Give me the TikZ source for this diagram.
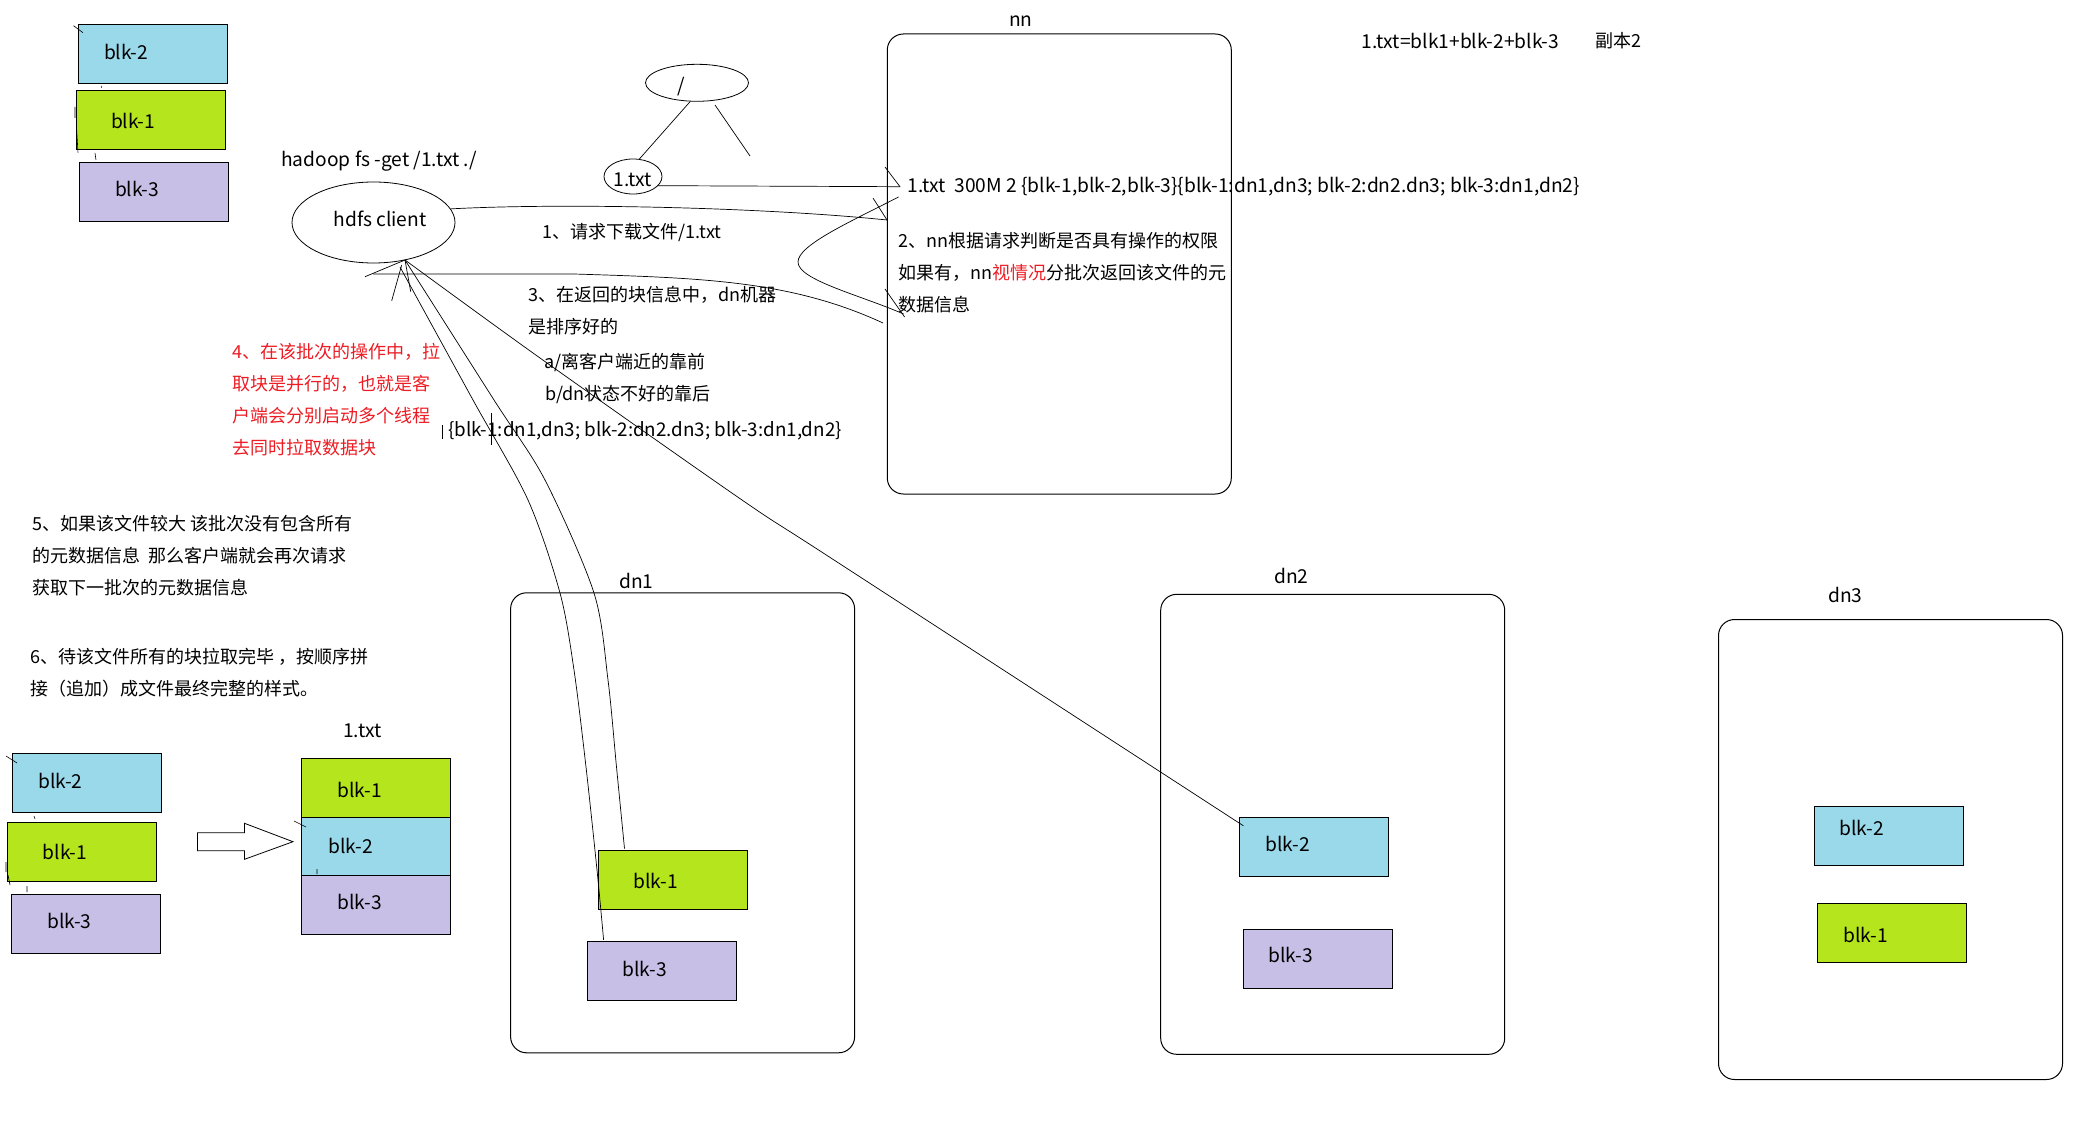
\documentclass[tikz,border=0pt]{standalone}
\usepackage{fontspec}
\setmainfont{Noto Sans CJK SC}
\usetikzlibrary{shapes.geometric}
\definecolor{blkblue}{HTML}{99D9EA}
\definecolor{blkgreen}{HTML}{B5E61D}
\definecolor{blkpurple}{HTML}{C8BFE7}
\definecolor{paintred}{HTML}{ED1C24}
\newcommand{\blkname}[3]{\hspace*{#1pt}\raisebox{#2pt}[0pt][0pt]{#3}}

\begin{document}
\begin{tikzpicture}[x=1pt,y=-1pt,every node/.style={font=\fontsize{18}{32}\selectfont},
	latin/.style={font=\fontsize{19.2}{32}\selectfont},
	blk/.style={draw,latin,line width=1pt,minimum height=59pt,text width=149pt,inner sep=0pt,align=left},
	blk2/.style={blk,fill=blkblue},blk1/.style={blk,fill=blkgreen},blk3/.style={blk,fill=blkpurple},
	server/.style={draw,line width=1pt,rounded corners=16pt,minimum width=344pt,minimum height=460pt,inner sep=0pt},
	txt/.style={anchor=west,inner sep=0pt,align=left},
	oval/.style={draw,ellipse,latin,line width=.8pt,inner sep=0pt},
	conn/.style={line width=.7pt},stub/.style={line width=.6pt}]
	\useasboundingbox (0,0) rectangle (2098,1139);

	% blocks of the file, upper left
	\node[blk2] (topblk2) at (152.5,54.5) {\blkname{26}{-5.5}{blk-2}};
	\node[blk1] (topblk1) at (150.5,120.5) {\blkname{35}{-8.5}{blk-1}};
	\node[blk3] (topblk3) at (153.5,192) {\blkname{36}{-4.5}{blk-3}};
	\draw[stub] (73.5,25.7) -- (83,32.7) (101.6,86) -- (101.6,88) (75,107) -- (75,118) (76.5,127) -- (78,152.7) (95,153) -- (96,160);

	% namenode
	\node[server] (nn) at (1059.3,264) {};
	\node[txt,latin] (nnlabel) at (1009,20.7) {nn};
	\node[txt,latin] (sum) at (1361.7,40.7) {1.txt=blk1+blk-2+blk-3};
	\node[txt] (copies) at (1595,40.7) {副本2};
	\node[txt,latin] (meta) at (907.6,186.7) {1.txt~~300M 2 \{blk-1,blk-2,blk-3\}\{blk-1:dn1,dn3; blk-2:dn2.dn3; blk-3:dn1,dn2\}};
	\node[txt] (step2) at (898.5,272.7) {2、nn根据请求判断是否具有操作的权限\\如果有，nn\textcolor{paintred}{视情况}分批次返回该文件的元\\数据信息};

	% client and directory tree
	\node[txt,latin] (cmd) at (281,161) {hadoop fs -get /1.txt ./};
	\node[oval,minimum width=163pt,minimum height=81pt] (client) at (373.5,222.5) {\hspace*{13pt}\raisebox{-4pt}[0pt][0pt]{hdfs client}};
	\node[oval,minimum width=103pt,minimum height=37pt] (root) at (697,82.8) {\raisebox{-10pt}[0pt][0pt]{/}\hspace*{32pt}};
	\node[oval,minimum width=58pt,minimum height=35pt] (file) at (633,176.5) {\raisebox{-10pt}[0pt][0pt]{1.txt}};
	\coordinate (rootend) at (750,156);
	\coordinate (nnfile) at (900,186.7);
	\coordinate (nnreq) at (887,220);
	\coordinate (nnback) at (883,323);
	\coordinate (clienttip) at (373,274);
	\coordinate (readtop) at (405,260);
	\draw[conn] (root.-110) -- (file.70);
	\draw[conn] (715,105) -- (rootend);
	\draw[conn] (file.-20) -- (nnfile);
	\draw[conn] (885,167) -- (nnfile);
	\draw[conn] (client.10) .. controls (560,203) and (760,207) .. (nnreq);
	\draw[conn] (873,198) -- (nnreq);
	\draw[conn] (898.5,197) .. controls (850,222) and (798,245) .. (798,262) .. controls (798,280) and (860,295) .. (903.6,314);
	\draw[conn] (885,289) -- (904.6,317);
	\draw[conn] (clienttip) -- (574,274) .. controls (700,278) and (790,280) .. (nnback);
	\draw[conn] (365,276.7) -- (readtop) -- (410.7,291.7);
	\draw[conn] (391.7,300.7) -- (401.7,265);

	% notes
	\node[txt] (step1) at (542.5,232.7) {1、请求下载文件/1.txt};
	\node[txt] (step3) at (528,311) {3、在返回的块信息中，dn机器\\是排序好的};
	\node[txt] (step3a) at (544,362.7) {a/离客户端近的靠前};
	\node[txt] (step3b) at (545,395) {b/dn状态不好的靠后};
	\node[txt,font=\fontsize{18.8}{32}\selectfont] (blockinfo) at (448,430.7) {\{blk-1:dn1,dn3; blk-2:dn2.dn3; blk-3:dn1,dn2\}};
	\draw[stub] (442,425) -- (442,439) (491.5,412.7) -- (491.5,445);
	\node[txt,text=paintred] (step4) at (232.5,399.8) {4、在该批次的操作中，拉\\取块是并行的，也就是客\\户端会分别启动多个线程\\去同时拉取数据块};
	\node[txt] (step5) at (32,556) {5、如果该文件较大 该批次没有包含所有\\的元数据信息~~那么客户端就会再次请求\\获取下一批次的元数据信息};
	\node[txt] (step6) at (30.4,673) {6、待该文件所有的块拉取完毕 ，按顺序拼\\接（追加）成文件最终完整的样式。};

	% blocks before and after merging
	\node[blk2] (leftblk2) at (86.8,783) {\blkname{26}{-5}{blk-2}};
	\node[blk1] (leftblk1) at (82.2,851.5) {\blkname{35}{-8}{blk-1}};
	\node[blk3] (leftblk3) at (85.8,923.5) {\blkname{36}{-5}{blk-3}};
	\draw[stub] (6,756) -- (17,763) (34,816) -- (35,819) (6,862) -- (6,872) (8,875) -- (10,885) (27,886) -- (27,892);
	\draw[line width=.8pt] (197.5,832.7) -- (244.5,832.7) -- (244.5,823.3) -- (293,841.7) -- (244.5,859.3) -- (244.5,850.7) -- (197.5,850.7) -- cycle;
	\node[txt,latin] (merged) at (343,730.7) {1.txt};
	\node[blk1] (mergedblk1) at (376,787.5) {\blkname{36}{-9.5}{blk-1}};
	\node[blk2] (mergedblk2) at (376,846.5) {\blkname{27}{-7}{blk-2}};
	\node[blk3] (mergedblk3) at (376,905) {\blkname{36}{-4.5}{blk-3}};
	\draw[stub] (294,821) -- (306,827) (317,869) -- (317,874);

	% datanodes
	\node[server] (dn1) at (682.6,822.8) {};
	\node[txt,latin] (dn1label) at (619,581) {dn1};
	\node[blk1] (dn1blk1) at (673,880) {\blkname{35}{-8.7}{blk-1}};
	\node[blk3] (dn1blk3) at (662,971) {\blkname{35}{-5}{blk-3}};
	\node[server] (dn2) at (1332.7,824.3) {};
	\node[txt,latin] (dn2label) at (1274,576) {dn2};
	\node[blk2] (dn2blk2) at (1314,846.7) {\blkname{26}{-5}{blk-2}};
	\node[blk3] (dn2blk3) at (1318,959) {\blkname{25}{-3.3}{blk-3}};
	\node[server] (dn3) at (1890.5,849.5) {};
	\node[txt,latin] (dn3label) at (1828,595) {dn3};
	\node[blk2] (dn3blk2) at (1889,836) {\blkname{25}{1}{blk-2}};
	\node[blk1] (dn3blk1) at (1892,933) {\blkname{26}{-9}{blk-1}};

	% reads from the datanodes
	\coordinate (reada) at (603.6,939.8);
	\coordinate (readb) at (624.5,848.6);
	\coordinate (readc) at (1243.4,825.8);
	\draw[conn] plot[smooth] coordinates {(400,267) (473,400) (528,500) (560,593) (574,670) (586,767) (597,870) (reada)};
	\draw[conn] plot[smooth] coordinates {(readtop) (494,400) (545,480) (594,593) (608,680) (616.5,767) (readb)};
	\draw[conn] plot[smooth] coordinates {(readtop) (540,358) (742,500) (834,560) (readc)};
\end{tikzpicture}
\end{document}
